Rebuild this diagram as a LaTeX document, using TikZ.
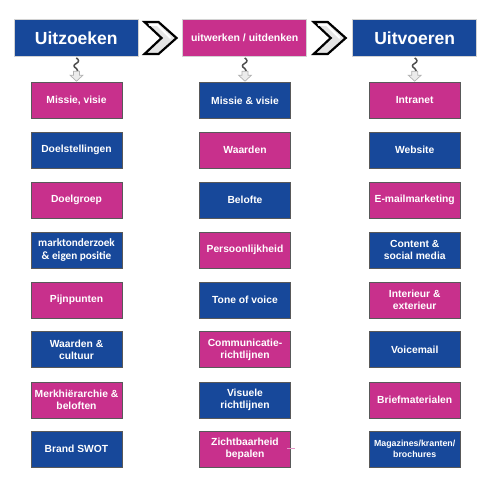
\documentclass[tikz,border=0pt]{standalone}
\usepackage{fontspec}
\setmainfont{Liberation Sans}
\newfontfamily\calib{Carlito}
\usetikzlibrary{calc}
\definecolor{myblue}{HTML}{17489A}
\definecolor{mymag}{HTML}{C8308C}
\begin{document}
\begin{tikzpicture}[x=1pt,y=-1pt]
\useasboundingbox (0,0) rectangle (504,495);
\tikzset{
 hdr/.style={minimum width=124pt, minimum height=37pt, draw=gray!35, line width=0.8pt, text=white, inner sep=0pt},
 itm/.style={minimum width=91pt, minimum height=36pt, draw=black!65, line width=0.6pt, text=white,
   font=\bfseries\fontsize{10.3}{12.3}\selectfont, align=center, inner sep=1pt},
 bl/.style={fill=myblue},
 mg/.style={fill=mymag},
 chev/.style={fill=gray!20, draw=black, line width=2.2pt, line join=miter},
 squig/.style={line width=1.5pt, draw=black!70},
 ahead/.style={fill=gray!15, draw=gray!60, line width=0.7pt}
}
% headers
\node[hdr,bl,font=\bfseries\fontsize{17.5}{20}\selectfont] (h1) at (76.3,38) {Uitzoeken};
\node[hdr,mg,font=\bfseries\fontsize{10.5}{12}\selectfont] (h2) at (244.7,38) {uitwerken / uitdenken};
\node[hdr,bl,font=\bfseries\fontsize{17.5}{20}\selectfont] (h3) at (414.7,38) {Uitvoeren};
% chevrons
\foreach \a/\b [count=\i] in {h1/h2,h2/h3}{
  \coordinate (c\i) at ($(\a.east)!0.5!(\b.west)$);
  \draw[chev] ($(c\i)+(-16,-16)$) -- ($(c\i)+(-2,-16)$) -- ($(c\i)+(16,0)$) -- ($(c\i)+(-2,16)$)
     -- ($(c\i)+(-16,16)$) -- ($(c\i)+(1,0)$) -- cycle;
  \draw[white, line width=2pt, line cap=round] ($(c\i)+(-11,-13)$) -- ($(c\i)+(-3,-13)$) -- ($(c\i)+(10,0)$);
}
% column 1
\node[itm,mg] (a1) at (76.5,100.5) {Missie, visie};
\node[itm,bl] (a2) at (76.5,150) {Doelstellingen};
\node[itm,mg] (a3) at (76.5,200) {Doelgroep};
\node[itm,bl,font=\calib\bfseries\fontsize{11.2}{13.5}\selectfont] (a4) at (76.5,250) {marktonderzoek\\\& eigen positie};
\node[itm,mg] (a5) at (76.5,300) {Pijnpunten};
\node[itm,bl] (a6) at (76.5,349.5) {Waarden \&\\cultuur};
\node[itm,mg] (a7) at (76.5,400) {Merkhiërarchie \&\\beloften};
\node[itm,bl] (a8) at (76.5,449) {Brand SWOT};
% column 2
\node[itm,bl] (b1) at (245,100.5) {Missie \& visie};
\node[itm,mg] (b2) at (245,150) {Waarden};
\node[itm,bl] (b3) at (245,200) {Belofte};
\node[itm,mg] (b4) at (245,250) {Persoonlijkheid};
\node[itm,bl] (b5) at (245,300) {Tone of voice};
\node[itm,mg] (b6) at (245,349.5) {Communicatie-\\richtlijnen};
\node[itm,bl] (b7) at (245,400) {Visuele\\richtlijnen};
\node[itm,mg] (b8) at (245,449) {Zichtbaarheid\\bepalen};
% column 3
\node[itm,mg] (c1) at (414.7,100.5) {Intranet};
\node[itm,bl] (c2) at (414.7,150) {Website};
\node[itm,mg] (c3) at (414.7,200) {E-mailmarketing};
\node[itm,bl] (c4) at (414.7,250) {Content \&\\social media};
\node[itm,mg] (c5) at (414.7,300) {Interieur \&\\exterieur};
\node[itm,bl] (c6) at (414.7,349.5) {Voicemail};
\node[itm,mg] (c7) at (414.7,400) {Briefmaterialen};
\node[itm,bl,font=\bfseries\fontsize{8.8}{11}\selectfont] (c8) at (414.7,449) {Magazines/kranten/\\brochures};
% small mark
\draw[mymag!50, line width=0.6pt] ($(b8.east)+(-4,-1)$) -- ($(b8.east)+(4,-1)$);
% squiggle arrows
\foreach \h/\t in {h1/a1,h2/b1,h3/c1}{
  \begin{scope}[shift={(\h.south)}]
    \draw[squig] (0,1) .. controls (3,3) and (3,5) .. (0,6.5) .. controls (-3,8) and (-3,10) .. (0,11.5) .. controls (2.5,13) and (1,14) .. (0,16);
  \end{scope}
  \draw[ahead] ($(\t.north)+(-3,-11)$) -- ($(\t.north)+(3,-11)$) -- ($(\t.north)+(3,-7)$) -- ($(\t.north)+(6.5,-7)$)
     -- ($(\t.north)+(0,-1)$) -- ($(\t.north)+(-6.5,-7)$) -- ($(\t.north)+(-3,-7)$) -- cycle;
}
\end{tikzpicture}
\end{document}
